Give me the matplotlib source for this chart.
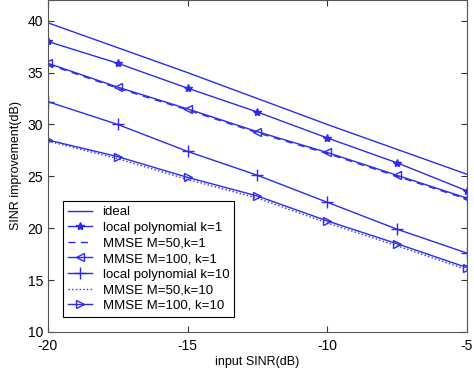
import numpy as np
import matplotlib
matplotlib.use("Agg")
import matplotlib.pyplot as plt

plt.rcParams['font.family'] = ['Liberation Sans', 'DejaVu Sans']
plt.rcParams['axes.unicode_minus'] = False

x_sinr = [-20, -17.5, -15, -12.5, -10, -7.5, -5]
ideal = [39.8, 37.4, 35.0, 32.5, 30.0, 27.6, 25.2]
lp_k1 = [38.0, 35.9, 33.5, 31.2, 28.7, 26.3, 23.6]
mmse50_k1 = [35.8, 33.5, 31.4, 29.2, 27.2, 25.0, 22.8]
mmse100_k1 = [35.9, 33.6, 31.5, 29.3, 27.3, 25.1, 22.9]
lp_k10 = [32.2, 30.0, 27.4, 25.1, 22.5, 19.9, 17.6]
mmse50_k10 = [28.4, 26.7, 24.7, 22.9, 20.5, 18.3, 16.0]
mmse100_k10 = [28.5, 26.9, 24.9, 23.1, 20.7, 18.5, 16.2]

c = '#2b2bf0'

fig = plt.figure(figsize=(4.74, 3.70), dpi=100)
ax = fig.add_axes([0.101, 0.103, 0.884, 0.897])

ax.plot(x_sinr, ideal, c=c, lw=1, label='ideal')
ax.plot(x_sinr, lp_k1, c=c, lw=1, marker='*', ms=6, label='local polynomial k=1')
ax.plot(x_sinr, mmse50_k1, c=c, lw=1, ls=(0, (5, 4)), label='MMSE M=50,k=1')
ax.plot(x_sinr, mmse100_k1, c=c, lw=1, marker='<', ms=6, mfc='none', label='MMSE M=100, k=1')
ax.plot(x_sinr, lp_k10, c=c, lw=1, marker='+', ms=8, label='local polynomial k=10')
ax.plot(x_sinr, mmse50_k10, c=c, lw=1, ls=':', label='MMSE M=50,k=10')
ax.plot(x_sinr, mmse100_k10, c=c, lw=1, marker='>', ms=6, mfc='none', label='MMSE M=100, k=10')

ax.set_xlim(-20, -5)
ax.set_ylim(10, 42)
ax.set_xticks([-20, -15, -10, -5])
ax.set_yticks(range(10, 41, 5))
ax.tick_params(direction='in', labelsize=10, length=4, top=True, right=True,
               labeltop=False, labelright=False, color='#333333')
ax.tick_params(axis='x', pad=5)
for s in ax.spines.values():
    s.set_color('#555555')

ax.set_xlabel('input SINR(dB)', fontsize=9, labelpad=2)
ax.set_ylabel('SINR improvement(dB)', fontsize=9, labelpad=4)

leg = ax.legend(loc='lower left', bbox_to_anchor=(0.036, 0.045), fontsize=9.5,
                fancybox=False, edgecolor='black', framealpha=1, borderaxespad=0,
                labelspacing=0.25, handlelength=1.8, borderpad=0.4)
leg.get_frame().set_linewidth(0.8)

fig.savefig('out.png', dpi=100)
